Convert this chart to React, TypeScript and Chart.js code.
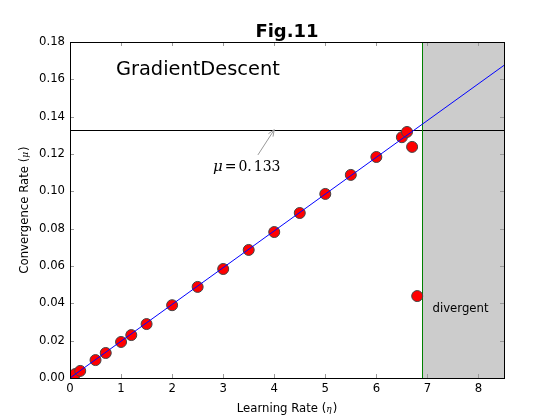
import React, { useEffect, useRef } from "react";
import { Chart, registerables } from "chart.js";

Chart.register(...registerables);

const ETA = [0.1, 0.2, 0.5, 0.7, 1.0, 1.2, 1.5, 2.0, 2.5, 3.0, 3.5, 4.0, 4.5, 5.0, 5.5, 6.0, 6.5, 6.6, 6.7, 6.8];
const RATE = [0.0021, 0.0038, 0.0096, 0.0134, 0.0193, 0.023, 0.0289, 0.039, 0.0488, 0.0584, 0.0686, 0.0782, 0.0884, 0.0986, 0.1088, 0.1184, 0.129, 0.1318, 0.1238, 0.0439];
const LINE_ETA = [0, 8.5];
const LINE_RATE = [0, 0.1675];
const MU = 0.133;
const ETA_LIMIT = 6.9;
const X_MIN = 0;
const X_MAX = 8.5;
const Y_MIN = 0;
const Y_MAX = 0.18;
const TITLE = "Fig.11";
const METHOD = "GradientDescent";
const DIVERGENT = "divergent";
const MU_LABEL_POS = [2.8, 0.111];
const ARROW_FROM = [3.68, 0.1195];
const ARROW_TO = [4.0, MU];
const METHOD_POS = [0.9, 0.165];
const DIVERGENT_POS = [7.1, 0.037];

const FONT = "'DejaVu Sans', sans-serif";

const overlay = {
  id: "overlay",
  beforeDatasetsDraw(chart: any) {
    const { ctx, chartArea: a, scales } = chart;
    const x = scales.x, y = scales.y;
    ctx.save();
    const gx = x.getPixelForValue(ETA_LIMIT);
    ctx.fillStyle = "#cccccc";
    ctx.fillRect(gx, a.top, a.right - gx, a.bottom - a.top);
    const my = Math.round(y.getPixelForValue(MU)) + 0.5;
    ctx.strokeStyle = "#000";
    ctx.lineWidth = 1;
    ctx.beginPath();
    ctx.moveTo(a.left, my);
    ctx.lineTo(a.right, my);
    ctx.stroke();
    ctx.strokeStyle = "#008000";
    ctx.beginPath();
    ctx.moveTo(Math.round(gx) + 0.5, a.top);
    ctx.lineTo(Math.round(gx) + 0.5, a.bottom);
    ctx.stroke();
    ctx.restore();
  },
  afterDatasetsDraw(chart: any) {
    const { ctx, chartArea: a, scales } = chart;
    const x = scales.x, y = scales.y;
    ctx.save();
    ctx.strokeStyle = "#999";
    ctx.lineWidth = 1;
    const tl = 4;
    x.ticks.forEach((t: any) => {
      const px = Math.round(x.getPixelForValue(t.value)) + 0.5;
      ctx.beginPath();
      ctx.moveTo(px, a.bottom);
      ctx.lineTo(px, a.bottom - tl);
      ctx.moveTo(px, a.top);
      ctx.lineTo(px, a.top + tl);
      ctx.stroke();
    });
    y.ticks.forEach((t: any) => {
      const py = Math.round(y.getPixelForValue(t.value)) + 0.5;
      ctx.beginPath();
      ctx.moveTo(a.left, py);
      ctx.lineTo(a.left + tl, py);
      ctx.moveTo(a.right, py);
      ctx.lineTo(a.right - tl, py);
      ctx.stroke();
    });
    ctx.strokeStyle = "#000";
    ctx.lineWidth = 1;
    ctx.strokeRect(Math.round(a.left) + 0.5, Math.round(a.top) + 0.5, Math.round(a.right - a.left), Math.round(a.bottom - a.top));
    ctx.fillStyle = "#000";
    ctx.font = `bold 18px ${FONT}`;
    ctx.textAlign = "center";
    ctx.textBaseline = "alphabetic";
    ctx.fillText(TITLE, (a.left + a.right) / 2, a.top - 5);
    ctx.font = `19.4px ${FONT}`;
    ctx.textAlign = "left";
    ctx.textBaseline = "middle";
    ctx.fillText(METHOD, x.getPixelForValue(METHOD_POS[0]), y.getPixelForValue(METHOD_POS[1]));
    ctx.font = `11.7px ${FONT}`;
    ctx.fillText(DIVERGENT, x.getPixelForValue(DIVERGENT_POS[0]), y.getPixelForValue(DIVERGENT_POS[1]));
    const lx = x.getPixelForValue(MU_LABEL_POS[0]);
    const ly = y.getPixelForValue(MU_LABEL_POS[1]);
    ctx.textBaseline = "alphabetic";
    ctx.font = `italic 15px 'DejaVu Serif', serif`;
    ctx.fillText("\u03bc", lx, ly);
    let w = ctx.measureText("\u03bc").width + 2;
    ctx.font = `14px 'DejaVu Serif', serif`;
    ctx.fillText("=", lx + w, ly);
    w += ctx.measureText("=").width + 2;
    ctx.fillText("0.", lx + w, ly);
    w += ctx.measureText("0.").width + 2;
    ctx.fillText("133", lx + w, ly);
    const ax0 = x.getPixelForValue(ARROW_FROM[0]), ay0 = y.getPixelForValue(ARROW_FROM[1]);
    const ax1 = x.getPixelForValue(ARROW_TO[0]), ay1 = y.getPixelForValue(ARROW_TO[1]);
    ctx.strokeStyle = "#999";
    ctx.lineWidth = 1;
    ctx.beginPath();
    ctx.moveTo(ax0, ay0);
    ctx.lineTo(ax1, ay1);
    const ang = Math.atan2(ay1 - ay0, ax1 - ax0);
    const hl = 7;
    ctx.moveTo(ax1 - hl * Math.cos(ang - 0.4), ay1 - hl * Math.sin(ang - 0.4));
    ctx.lineTo(ax1, ay1);
    ctx.lineTo(ax1 - hl * Math.cos(ang + 0.4), ay1 - hl * Math.sin(ang + 0.4));
    ctx.stroke();
    ctx.fillStyle = "#000";
    const drawLabel = (pre: string, greek: string, cx: number, cy: number, rot: number) => {
      ctx.save();
      ctx.translate(cx, cy);
      ctx.rotate(rot);
      ctx.textBaseline = "alphabetic";
      ctx.textAlign = "left";
      ctx.font = `11.7px ${FONT}`;
      const w1 = ctx.measureText(pre + "(").width;
      ctx.font = `italic 9px 'DejaVu Serif', serif`;
      const w2 = ctx.measureText(greek).width;
      ctx.font = `11.7px ${FONT}`;
      const w3 = ctx.measureText(")").width;
      const total = w1 + w2 + 1 + w3;
      let sx = -total / 2;
      ctx.fillText(pre + "(", sx, 4);
      sx += w1;
      ctx.font = `italic 9px 'DejaVu Serif', serif`;
      ctx.fillText(greek, sx, 4);
      sx += w2 + 1;
      ctx.font = `11.7px ${FONT}`;
      ctx.fillText(")", sx, 4);
      ctx.restore();
    };
    drawLabel("Learning Rate ", "\u03b7", (a.left + a.right) / 2, 408, 0);
    drawLabel("Convergence Rate ", "\u03bc", 24, (a.top + a.bottom) / 2, -Math.PI / 2);
    ctx.restore();
  },
};

export default function App() {
  const ref = useRef<HTMLCanvasElement>(null);
  useEffect(() => {
    const canvas = ref.current;
    if (!canvas) return;
    const chart = new Chart(canvas, {
      type: "scatter",
      data: {
        datasets: [
          {
            type: "line",
            data: LINE_ETA.map((v, i) => ({ x: v, y: LINE_RATE[i] })),
            borderColor: "#0000ff",
            borderWidth: 1,
            pointRadius: 0,
            fill: false,
            order: 0,
          } as any,
          {
            data: ETA.map((v, i) => ({ x: v, y: RATE[i] })),
            backgroundColor: "#ff0000",
            borderColor: "#444444",
            borderWidth: 1,
            pointRadius: 5.5,
            order: 1,
          },
        ],
      },
      options: {
        responsive: false,
        animation: false,
        events: [],
        layout: { padding: { top: 42, right: 56, left: 0, bottom: 0 } },
        plugins: { legend: { display: false }, tooltip: { enabled: false }, title: { display: false } },
        scales: {
          x: {
            type: "linear",
            min: X_MIN,
            max: X_MAX,
            grid: { display: false, drawTicks: false },
            border: { display: false },
            afterFit: (s: any) => { s.height = 42; },
            ticks: {
              stepSize: 1,
              includeBounds: false,
              padding: 4,
              color: "#000",
              font: { family: "DejaVu Sans", size: 11.7 },
              callback: (v: any) => String(v),
            },
          },
          y: {
            type: "linear",
            min: Y_MIN,
            max: Y_MAX,
            grid: { display: false, drawTicks: false },
            border: { display: false },
            afterFit: (s: any) => { s.width = 70; },
            ticks: {
              stepSize: 0.02,
              includeBounds: false,
              padding: 5,
              color: "#000",
              font: { family: "DejaVu Sans", size: 11.7 },
              callback: (v: any) => Number(v).toFixed(2),
            },
          },
        },
      },
      plugins: [overlay],
    });
    return () => chart.destroy();
  }, []);
  return (
    <div style={{ position: "absolute", left: 0, top: 0, width: 560, height: 420, background: "#fff" }}>
      <canvas ref={ref} width={560} height={420} />
    </div>
  );
}
